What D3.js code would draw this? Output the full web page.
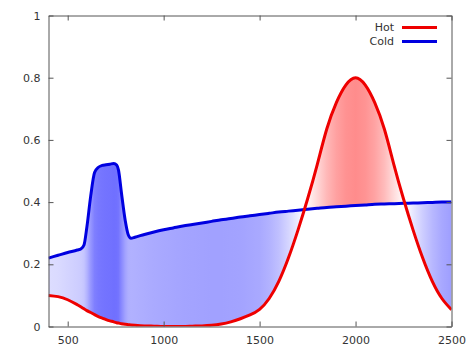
<!DOCTYPE html>
<html>
<head>
<meta charset="utf-8">
<script src="https://cdn.jsdelivr.net/npm/d3@7"></script>
<style>
  html, body { margin: 0; padding: 0; background: #fff; }
  svg { display: block; }
  text { font-family: "DejaVu Sans", Verdana, sans-serif; font-size: 11px; fill: #333; }
</style>
</head>
<body>
<svg id="chart" width="474" height="355"></svg>
<script>
// ---- data ----
const xValues = [400,450,500,550,570,585,600,620,640,660,680,700,720,740,755,765,780,800,815,830,850,
  900,950,1000,1050,1100,1150,1200,1250,1300,1350,1400,1450,1500,1550,1600,1650,1700,1750,1800,1850,
  1900,1950,2000,2050,2100,2150,2200,2250,2300,2350,2400,2450,2500];
const hotValues = [0.100,0.096,0.086,0.070,0.063,0.057,0.051,0.045,0.038,0.032,0.027,0.022,0.018,0.015,0.012,0.011,0.009,0.007,0.006,0.005,0.004,
  0.002,0.001,0.000,0.000,0.000,0.001,0.002,0.004,0.008,0.015,0.025,0.037,0.055,0.090,0.145,0.220,0.310,0.410,0.520,0.635,
  0.720,0.777,0.800,0.777,0.720,0.635,0.520,0.410,0.310,0.220,0.145,0.090,0.054];
const coldValues = [0.220,0.229,0.238,0.246,0.250,0.262,0.320,0.420,0.495,0.512,0.518,0.520,0.522,0.524,0.519,0.502,0.430,0.340,0.296,0.284,0.287,
  0.296,0.304,0.311,0.317,0.323,0.328,0.333,0.338,0.343,0.347,0.352,0.356,0.360,0.364,0.368,0.371,0.374,0.377,0.380,0.383,
  0.385,0.387,0.389,0.391,0.393,0.394,0.395,0.396,0.397,0.398,0.399,0.400,0.400];
const seriesNames = ["Hot", "Cold"];
const xTicks = [500, 1000, 1500, 2000, 2500];
const yTicks = [0, 0.2, 0.4, 0.6, 0.8, 1];
const yTickLabels = ["0", "0.2", "0.4", "0.6", "0.8", "1"];

// ---- layout ----
const svg = d3.select("#chart");
const x = d3.scaleLinear().domain([400, 2500]).range([48.5, 451.5]);
const y = d3.scaleLinear().domain([0, 1]).range([326.5, 15.5]);
const hotColor = "#ee0000", coldColor = "#0000e0", axisColor = "#555";

const pts = xValues.map((v, i) => ({ x: v, hot: hotValues[i], cold: coldValues[i] }));

// clip
const defs = svg.append("defs");
defs.append("clipPath").attr("id", "clip")
  .append("rect").attr("x", x(400)).attr("y", y(1)).attr("width", x(2500) - x(400)).attr("height", y(0) - y(1));

// gradient for the fill between curves (intensity ~ difference)
const k = 1.1;
function colorFor(d) {
  const a = Math.min(1, Math.abs(d) * k);
  const c = Math.round(255 * (1 - a));
  return d >= 0 ? `rgb(${c},${c},255)` : `rgb(255,${c},${c})`;
}
const grad = defs.append("linearGradient").attr("id", "diffGrad")
  .attr("gradientUnits", "userSpaceOnUse")
  .attr("x1", x(400)).attr("x2", x(2500)).attr("y1", 0).attr("y2", 0);
const stops = [];
pts.forEach((p, i) => {
  const d = p.cold - p.hot;
  if (i > 0) {
    const q = pts[i - 1], dq = q.cold - q.hot;
    if ((dq > 0 && d < 0) || (dq < 0 && d > 0)) {
      const t = dq / (dq - d);
      stops.push({ x: q.x + t * (p.x - q.x), c: "rgb(255,255,255)" });
    }
  }
  stops.push({ x: p.x, c: colorFor(d) });
});
stops.forEach(s => grad.append("stop")
  .attr("offset", ((s.x - 400) / 2100 * 100).toFixed(3) + "%")
  .attr("stop-color", s.c));

const lineHot = d3.line().x(d => x(d.x)).y(d => y(d.hot)).curve(d3.curveNatural);
const lineCold = d3.line().x(d => x(d.x)).y(d => y(d.cold)).curve(d3.curveMonotoneX);

const g = svg.append("g").attr("clip-path", "url(#clip)");
const fillPath = lineCold(pts) + lineHot(pts.slice().reverse()).replace(/^M/, "L") + "Z";
g.append("path").attr("d", fillPath).attr("fill", "url(#diffGrad)");

g.append("path").datum(pts).attr("d", lineCold).attr("fill", "none")
  .attr("stroke", coldColor).attr("stroke-width", 3).attr("stroke-linejoin", "round");
g.append("path").datum(pts).attr("d", lineHot).attr("fill", "none")
  .attr("stroke", hotColor).attr("stroke-width", 3).attr("stroke-linejoin", "round");

// axes (gnuplot style: inward ticks, mirrored)
const tl = 5;
const axB = svg.append("g").attr("transform", `translate(0,${y(0)})`)
  .call(d3.axisBottom(x).tickValues(xTicks).tickSizeInner(-tl).tickSizeOuter(0).tickPadding(10).tickFormat(d3.format("d")));
const axT = svg.append("g").attr("transform", `translate(0,${y(1)})`)
  .call(d3.axisTop(x).tickValues(xTicks).tickSizeInner(-tl).tickSizeOuter(0).tickFormat(""));
const axL = svg.append("g").attr("transform", `translate(${x(400)},0)`)
  .call(d3.axisLeft(y).tickValues(yTicks).tickSizeInner(-tl).tickSizeOuter(0).tickPadding(8)
    .tickFormat((d, i) => yTickLabels[i]));
const axR = svg.append("g").attr("transform", `translate(${x(2500)},0)`)
  .call(d3.axisRight(y).tickValues(yTicks).tickSizeInner(-tl).tickSizeOuter(0).tickFormat(""));
[axB, axT, axL, axR].forEach(a => {
  a.select(".domain").attr("stroke", axisColor);
  a.selectAll(".tick line").attr("stroke", axisColor);
  a.selectAll("text").attr("fill", "#333").style("font-family", "DejaVu Sans, Verdana, sans-serif").style("font-size", "11px");
});
axB.selectAll("text").attr("dy", "0.71em").attr("y", 10);
axL.selectAll("text").attr("x", -8);

// legend
const legend = svg.append("g");
[hotColor, coldColor].forEach((c, i) => {
  const ly = 27.5 + i * 14;
  legend.append("text").attr("x", 394).attr("y", ly).attr("dy", "0.35em")
    .attr("text-anchor", "end").text(seriesNames[i]);
  legend.append("line").attr("x1", 402).attr("x2", 437).attr("y1", ly).attr("y2", ly)
    .attr("stroke", c).attr("stroke-width", 3);
});
</script>
</body>
</html>
